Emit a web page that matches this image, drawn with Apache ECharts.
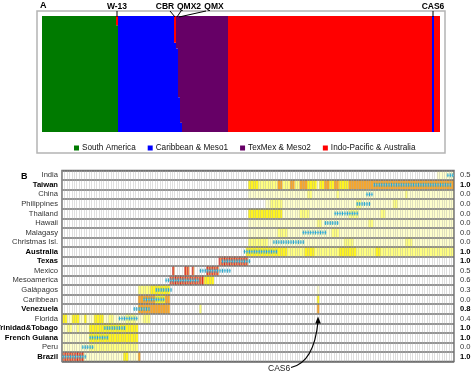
<!DOCTYPE html>
<html>
<head>
<meta charset="utf-8">
<script src="https://cdn.jsdelivr.net/npm/echarts@6/dist/echarts.min.js"></script>
<style>
  html, body { margin: 0; padding: 0; background: #fff; }
  #chart { width: 474px; height: 375px; }
</style>
</head>
<body>
<div id="chart"></div>
<script>
// ---- panel A: structure plot, runs of individuals ----
// [count, South America, Caribbean & Meso1, TexMex & Meso2, Indo-Pacific & Australia]
const structureRuns = [
  [37, 1, 0, 0, 0],
  [1, 0.92, 0, 0, 0.08],   // W-13
  [28, 0, 1, 0, 0],
  [1, 0, 0.77, 0, 0.23],   // CBR
  [1, 0, 0.72, 0.28, 0],   // QMX2
  [1, 0, 0.3, 0.7, 0],     // QMX
  [1, 0, 0.08, 0.92, 0],
  [23, 0, 0, 1, 0],
  [102, 0, 0, 0, 1],
  [1, 0, 1, 0, 0],         // CAS6
  [3, 0, 0, 0, 1]
]
const clusterNames = ['South America', 'Caribbean & Meso1', 'TexMex & Meso2', 'Indo-Pacific & Australia']
const clusterColors = ['#007a00', '#0000ff', '#660066', '#ff0000']
// [label, individual index, label offset x]
const labelsA = [['W-13', 37, 0], ['CBR', 66, -10], ['QMX2', 67, 12], ['QMX', 68, 35], ['CAS6', 195, 0]]

// ---- panel B: assignment heat map ----
const regions = ['India', 'Taiwan', 'China', 'Philippines', 'Thailand', 'Hawaii', 'Malagasy',
  'Christmas Isl.', 'Australia', 'Texas', 'Mexico', 'Mesoamerica', 'Galápagos', 'Caribbean',
  'Venezuela', 'Florida', 'Trinidad&Tobago', 'French Guiana', 'Peru', 'Brazil']
const boldRegions = ['Taiwan', 'Australia', 'Texas', 'Venezuela', 'Trinidad&Tobago', 'French Guiana', 'Brazil']
const rightValues = ['0.5', '1.0', '0.0', '0.0', '0.0', '0.0', '0.0', '0.0', '1.0', '1.0',
  '0.5', '0.6', '0.3', '0.0', '0.8', '0.4', '1.0', '1.0', '0.0', '1.0']
const sampleCount = 160
// [region, first column, end column, level]  level: 1 pale .. 5 red, 6 red/orange stripes
const heatRuns = [
  ['India', 153, 160, 1],
  ['Taiwan', 76, 80, 3], ['Taiwan', 80, 88, 2], ['Taiwan', 88, 90, 4], ['Taiwan', 90, 93, 2],
  ['Taiwan', 93, 95, 4], ['Taiwan', 95, 97, 2], ['Taiwan', 97, 100, 4], ['Taiwan', 100, 104, 3],
  ['Taiwan', 104, 105, 1], ['Taiwan', 105, 107, 3], ['Taiwan', 107, 109, 4], ['Taiwan', 109, 111, 3],
  ['Taiwan', 111, 113, 4], ['Taiwan', 113, 117, 3], ['Taiwan', 117, 160, 4],
  ['China', 76, 160, 1], ['China', 100, 102, 2], ['China', 112, 113, 2], ['China', 140, 141, 2],
  ['Philippines', 83, 160, 1], ['Philippines', 85, 90, 2], ['Philippines', 120, 122, 2], ['Philippines', 135, 137, 2],
  ['Thailand', 76, 90, 3], ['Thailand', 90, 160, 1], ['Thailand', 97, 101, 2], ['Thailand', 117, 121, 2], ['Thailand', 130, 132, 2],
  ['Hawaii', 76, 160, 1], ['Hawaii', 104, 106, 2], ['Hawaii', 125, 127, 2],
  ['Malagasy', 76, 160, 1], ['Malagasy', 88, 92, 2], ['Malagasy', 110, 113, 2],
  ['Christmas Isl.', 76, 160, 1], ['Christmas Isl.', 76, 84, 2], ['Christmas Isl.', 115, 119, 2], ['Christmas Isl.', 140, 143, 2],
  ['Australia', 75, 92, 3], ['Australia', 92, 160, 2], ['Australia', 99, 103, 3], ['Australia', 113, 120, 3], ['Australia', 128, 130, 3],
  ['Texas', 64, 76, 6],
  ['Mexico', 45, 46, 6], ['Mexico', 50, 52, 6], ['Mexico', 53, 54, 6], ['Mexico', 59, 64, 6],
  ['Mesoamerica', 44, 58, 6], ['Mesoamerica', 58, 62, 3],
  ['Galápagos', 31, 36, 2], ['Galápagos', 36, 44, 3], ['Galápagos', 104, 105, 1],
  ['Caribbean', 31, 38, 4], ['Caribbean', 38, 42, 3], ['Caribbean', 42, 44, 4], ['Caribbean', 104, 105, 3],
  ['Venezuela', 31, 44, 4], ['Venezuela', 56, 57, 2], ['Venezuela', 104, 105, 4],
  ['Florida', 0, 36, 1], ['Florida', 0, 2, 3], ['Florida', 4, 7, 3], ['Florida', 9, 10, 3],
  ['Florida', 13, 17, 3], ['Florida', 19, 21, 2], ['Florida', 26, 30, 2], ['Florida', 33, 36, 2],
  ['Trinidad&Tobago', 0, 11, 1], ['Trinidad&Tobago', 2, 4, 2], ['Trinidad&Tobago', 6, 7, 2], ['Trinidad&Tobago', 11, 31, 3],
  ['French Guiana', 0, 11, 1], ['French Guiana', 11, 31, 3],
  ['Peru', 0, 11, 1], ['Peru', 11, 31, 2],
  ['Brazil', 0, 9, 6], ['Brazil', 9, 31, 1], ['Brazil', 25, 27, 3], ['Brazil', 31, 32, 4]
]
// cyan interval markers [region, first column, end column]
const intervals = [
  ['India', 157, 160], ['Taiwan', 127, 159], ['China', 124, 127], ['Philippines', 120, 126],
  ['Thailand', 111, 121], ['Hawaii', 107, 113], ['Malagasy', 98, 108], ['Christmas Isl.', 86, 99],
  ['Australia', 74, 88], ['Texas', 65, 77], ['Mexico', 56, 69], ['Mesoamerica', 42, 56],
  ['Galápagos', 38, 45], ['Caribbean', 33, 42], ['Venezuela', 29, 36], ['Florida', 23, 31],
  ['Trinidad&Tobago', 17, 26], ['French Guiana', 11, 19], ['Peru', 8, 13], ['Brazil', 0, 10]
]
const heatColors = { 1: '#ffffcc', 2: '#ffff80', 3: '#fff41f', 4: '#f5a62e', 5: '#e3201b' }

const membership = [[], [], [], []]
structureRuns.forEach((run) => {
  for (let i = 0; i < run[0]; i++) {
    for (let k = 0; k < 4; k++) membership[k].push(run[k + 1])
  }
})
const individuals = membership[0].map((_, i) => 'ind' + (i + 1))

const heatData = heatRuns.map((r) => [r[1], r[2], regions.indexOf(r[0]), r[3]])
const intervalData = intervals.map((r) => [r[1], r[2], regions.indexOf(r[0])])

const renderHeat = (params, api) => {
  const row = api.value(2)
  const level = api.value(3)
  const a = api.coord([api.value(0), row])
  const b = api.coord([api.value(1), row])
  const h = api.size([0, 1])[1]
  if (level === 6) {
    const children = []
    const colW = api.size([1, 0])[0]
    for (let c = api.value(0); c < api.value(1); c++) {
      const p = api.coord([c, row])
      children.push({ type: 'rect', shape: { x: p[0], y: p[1] - h / 2, width: colW, height: h }, style: { fill: '#f5a05a' } })
      children.push({ type: 'rect', shape: { x: p[0], y: p[1] - h / 2, width: colW * 0.5, height: h }, style: { fill: '#e01c1c' } })
    }
    return { type: 'group', children }
  }
  return {
    type: 'rect',
    shape: { x: a[0], y: a[1] - h / 2, width: b[0] - a[0], height: h },
    style: { fill: heatColors[level] },
  }
}

const renderInterval = (params, api) => {
  const row = api.value(2)
  const a = api.coord([api.value(0), row])
  const b = api.coord([api.value(1), row])
  const children = [{ type: 'line', shape: { x1: a[0], y1: a[1], x2: b[0], y2: b[1] }, style: { stroke: '#7fd0ee', lineWidth: 1 } }]
  for (let c = api.value(0); c < api.value(1); c++) {
    const p = api.coord([c + 0.5, row])
    children.push({ type: 'line', shape: { x1: p[0], y1: p[1] - 2, x2: p[0], y2: p[1] + 2 }, style: { stroke: '#2ea6c6', lineWidth: 1 } })
  }
  return { type: 'group', children }
}

const chart = echarts.init(document.getElementById('chart'))
chart.setOption({
  animation: false,
  textStyle: { fontFamily: 'Liberation Sans, Arial' },
  legend: {
    data: clusterNames,
    left: 69,
    top: 139,
    width: 400,
    icon: 'rect',
    itemWidth: 5,
    itemHeight: 5,
    itemGap: 12,
    textStyle: { fontSize: 8.2, color: '#111', padding: [0, 0, 0, -2] },
    selectedMode: false,
  },
  grid: [
    { left: 42, top: 16, width: 398, height: 116, outerBoundsMode: 'none' },
    {
      left: 62, top: 170.5, width: 392, height: 191, outerBoundsMode: 'none',
      show: true, borderColor: '#6e6e6e', borderWidth: 1.5, z: 3,
    },
  ],
  xAxis: [
    { type: 'category', gridIndex: 0, data: individuals, show: false },
    {
      type: 'value', gridIndex: 1, min: 0, max: sampleCount, interval: 1, z: 3,
      axisLine: { show: false }, axisTick: { show: false }, axisLabel: { show: false },
      splitLine: { show: true, lineStyle: { color: 'rgba(170,170,170,0.55)', width: 0.7 } },
    },
  ],
  yAxis: [
    { type: 'value', gridIndex: 0, min: 0, max: 1, show: false },
    {
      type: 'category', gridIndex: 1, data: regions, inverse: true, z: 3,
      axisLine: { show: false }, axisTick: { show: false },
      axisLabel: {
        interval: 0, fontSize: 7.6, color: '#333', margin: 4,
        formatter: (v) => (boldRegions.includes(v) ? '{b|' + v + '}' : v),
        rich: { b: { fontWeight: 'bold', color: '#000', fontSize: 7.6 } },
      },
      splitLine: { show: true, interval: 0, lineStyle: { color: '#707070', width: 1.7 } },
    },
    {
      type: 'category', gridIndex: 1, data: regions, inverse: true, position: 'right',
      axisLine: { show: false }, axisTick: { show: false },
      axisLabel: {
        interval: 0, fontSize: 7.6, color: '#333', margin: 6,
        formatter: (v, i) => (boldRegions.includes(v) ? '{b|' + rightValues[i] + '}' : rightValues[i]),
        rich: { b: { fontWeight: 'bold', color: '#000', fontSize: 7.6 } },
      },
    },
  ],
  series: [
    ...clusterNames.map((name, k) => ({
      name,
      type: 'bar',
      stack: 'q',
      xAxisIndex: 0,
      yAxisIndex: 0,
      barWidth: '100%',
      itemStyle: { color: clusterColors[k] },
      data: membership[k],
    })),
    {
      type: 'custom', xAxisIndex: 1, yAxisIndex: 1, z: 1,
      renderItem: renderHeat, encode: { x: [0, 1], y: 2 }, data: heatData,
    },
    {
      type: 'custom', xAxisIndex: 1, yAxisIndex: 1, z: 5,
      renderItem: renderInterval, encode: { x: [0, 1], y: 2 }, data: intervalData,
    },
  ],
})

// annotations, positioned from the axes
const graphics = []
const gridA = chart.getModel().getComponent('grid', 0).coordinateSystem.getRect()
graphics.push({
  type: 'rect', z: 0,
  shape: { x: gridA.x - 5, y: gridA.y - 5, width: gridA.width + 10, height: gridA.height + 26 },
  style: { fill: 'none', stroke: '#b4b4b4', lineWidth: 1.5 },
})
graphics.push({ type: 'text', left: 40, top: 1, style: { text: 'A', font: 'bold 9px Liberation Sans', fill: '#000' } })
graphics.push({ type: 'text', left: 21, top: 172, style: { text: 'B', font: 'bold 9px Liberation Sans', fill: '#000' } })
labelsA.forEach(([text, idx, dx]) => {
  const p = chart.convertToPixel({ xAxisIndex: 0, yAxisIndex: 0 }, [idx, 1])
  const tx = p[0] + dx
  graphics.push({
    type: 'text', x: tx, y: 2, z: 10,
    style: { text, font: 'bold 8.5px Liberation Sans', fill: '#000', align: 'center', verticalAlign: 'top' },
  })
  const x1 = dx === 0 ? p[0] : tx + (dx < 0 ? 5 : -8)
  graphics.push({
    type: 'line', z: 10,
    shape: { x1, y1: 11, x2: p[0], y2: p[1] + 1 },
    style: { stroke: '#000', lineWidth: 1 },
  })
})
const tip = chart.convertToPixel({ xAxisIndex: 1, yAxisIndex: 1 }, [104.5, regions.indexOf('Florida')])
graphics.push({ type: 'text', x: tip[0] - 50, y: tip[1] + 46, style: { text: 'CAS6', font: '8.5px Liberation Sans', fill: '#222' } })
graphics.push({
  type: 'bezierCurve', z: 10,
  shape: { x1: tip[0] - 27, y1: tip[1] + 49, cpx1: tip[0] - 4, cpy1: tip[1] + 44, x2: tip[0], y2: tip[1] + 3 },
  style: { stroke: '#000', lineWidth: 1.2, fill: 'none' },
})
graphics.push({
  type: 'polygon', z: 10,
  shape: { points: [[tip[0], tip[1] - 2], [tip[0] - 2.8, tip[1] + 5], [tip[0] + 2.8, tip[1] + 5]] },
  style: { fill: '#000' },
})
chart.setOption({ graphic: graphics })
</script>
</body>
</html>
